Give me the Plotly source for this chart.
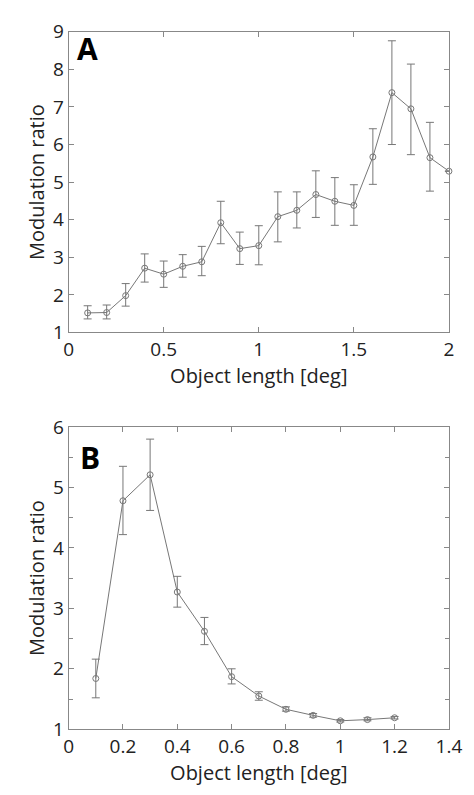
import plotly.graph_objects as go
from plotly.subplots import make_subplots

# Panel A
a_x = [0.1, 0.2, 0.3, 0.4, 0.5, 0.6, 0.7, 0.8, 0.9, 1.0,
       1.1, 1.2, 1.3, 1.4, 1.5, 1.6, 1.7, 1.8, 1.9, 2.0]
a_y = [1.52, 1.53, 1.98, 2.71, 2.55, 2.76, 2.88, 3.92, 3.23, 3.31,
       4.08, 4.25, 4.67, 4.49, 4.38, 5.67, 7.38, 6.95, 5.65, 5.29]
a_hi = [1.71, 1.73, 2.30, 3.09, 2.90, 3.07, 3.29, 4.49, 3.67, 3.84,
        4.74, 4.74, 5.30, 5.12, 4.93, 6.42, 8.76, 8.14, 6.59, 5.29]
a_lo = [1.36, 1.36, 1.70, 2.34, 2.20, 2.47, 2.51, 3.36, 2.81, 2.80,
        3.41, 3.78, 4.06, 3.85, 3.85, 4.94, 6.00, 5.73, 4.76, 5.29]

# Panel B
b_x = [0.1, 0.2, 0.3, 0.4, 0.5, 0.6, 0.7, 0.8, 0.9, 1.0, 1.1, 1.2]
b_y = [1.84, 4.78, 5.21, 3.27, 2.62, 1.87, 1.55, 1.33, 1.23, 1.14, 1.16, 1.19]
b_hi = [2.16, 5.35, 5.80, 3.53, 2.85, 2.00, 1.62, 1.37, 1.26, 1.16, 1.19, 1.21]
b_lo = [1.52, 4.22, 4.62, 3.02, 2.40, 1.75, 1.48, 1.30, 1.20, 1.12, 1.14, 1.17]

grey = "#777777"
tick_font = dict(family="Open Sans", size=19, color="#222222")
title_font = dict(family="Open Sans", size=20, color="#222222")

fig = make_subplots(rows=2, cols=1)


def add_panel(x, y, hi, lo, row):
    fig.add_trace(go.Scatter(
        x=x, y=y, mode="lines+markers",
        line=dict(color=grey, width=1),
        marker=dict(symbol="circle-open", size=6, color=grey, line=dict(width=1)),
        error_y=dict(type="data", symmetric=False,
                     array=[h - v for h, v in zip(hi, y)],
                     arrayminus=[v - l for v, l in zip(y, lo)],
                     color=grey, thickness=1, width=4),
        showlegend=False, cliponaxis=False), row=row, col=1)


add_panel(a_x, a_y, a_hi, a_lo, 1)
add_panel(b_x, b_y, b_hi, b_lo, 2)

axis_style = dict(showline=True, linecolor="#888888", linewidth=1, mirror="ticks",
                  ticks="inside", ticklen=5, tickcolor="#888888",
                  showgrid=False, zeroline=False, tickfont=tick_font,
                  title_font=title_font)

fig.update_xaxes(axis_style)
fig.update_yaxes(axis_style)
fig.update_xaxes(range=[0, 2], dtick=0.5, domain=[0.122, 0.956],
                 title_text="Object length [deg]", title_standoff=0, row=1, col=1)
fig.update_yaxes(range=[1, 9], dtick=1, domain=[0.595, 0.986],
                 title_text="Modulation ratio", title_standoff=2, row=1, col=1)
fig.update_xaxes(range=[0, 1.4], dtick=0.2, domain=[0.122, 0.956],
                 title_text="Object length [deg]", title_standoff=4, row=2, col=1)
fig.update_yaxes(range=[1, 6], dtick=1, domain=[0.079, 0.472],
                 minor=dict(dtick=0.5, ticks="inside", ticklen=4, tickcolor="#888888"),
                 title_text="Modulation ratio", title_standoff=2, row=2, col=1)

fig.add_annotation(text="<b>A</b>", x=0.1, y=8.55, xref="x", yref="y", showarrow=False,
                   font=dict(family="Open Sans", size=30, color="black"))
fig.add_annotation(text="<b>B</b>", x=0.08, y=5.5, xref="x2", yref="y2", showarrow=False,
                   font=dict(family="Open Sans", size=30, color="black"))

fig.update_layout(width=474, height=795, margin=dict(l=0, r=0, t=0, b=0),
                  plot_bgcolor="white", paper_bgcolor="white")

fig.write_html("out.html")
